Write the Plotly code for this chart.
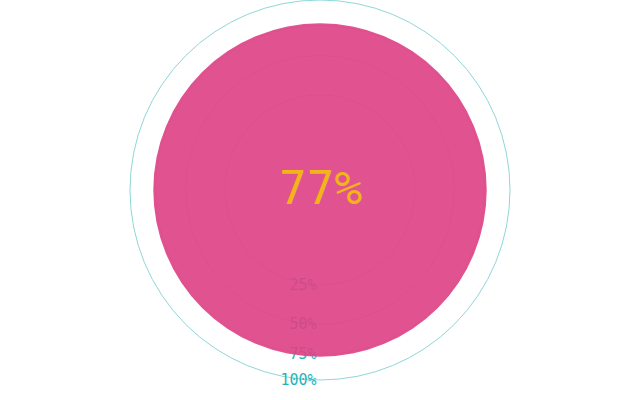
import numpy as np
import plotly.graph_objects as go

value = 77
tick_values = [25, 50, 75, 100]
tick_labels = ["25%", "50%", "75%", "100%"]

teal = "#1fb5b8"
pink = "rgba(222,64,132,0.9)"
orange = "#f2b418"
font_family = "DejaVu Sans Mono"

fig = go.Figure()
fig.add_trace(go.Barpolar(
    r=[np.sqrt(value)],
    theta=[0],
    width=[360],
    marker=dict(color=pink, line=dict(width=0)),
    hoverinfo="skip",
))

fig.update_layout(
    width=640, height=400,
    margin=dict(l=0, r=0, t=0, b=20, autoexpand=False),
    paper_bgcolor="white",
    showlegend=False,
    font=dict(family=font_family),
    polar=dict(
        bgcolor="white",
        domain=dict(x=[0, 1], y=[0, 1]),
        radialaxis=dict(
            range=[0, np.sqrt(100)],
            tickvals=list(np.sqrt(tick_values)),
            ticktext=tick_labels,
            angle=-90,
            tickangle=-90,
            showline=False,
            ticks="",
            gridcolor="rgba(150,80,130,0.35)",
            gridwidth=1,
            tickfont=dict(color=teal, size=15, family=font_family),
            layer="below traces",
        ),
        angularaxis=dict(
            showticklabels=False,
            showgrid=False,
            ticks="",
            showline=True,
            linecolor="#8fd6d8",
            linewidth=1,
            layer="below traces",
        ),
    ),
    annotations=[dict(
        text=f"{value}%",
        x=0.5, y=0.5,
        xref="paper", yref="paper",
        yshift=2,
        showarrow=False,
        font=dict(size=46, color=orange, family=font_family),
        xanchor="center", yanchor="middle",
    )],
)

fig.write_html("out.html", config={"displayModeBar": False},
               post_script="document.body.style.margin='0';")
